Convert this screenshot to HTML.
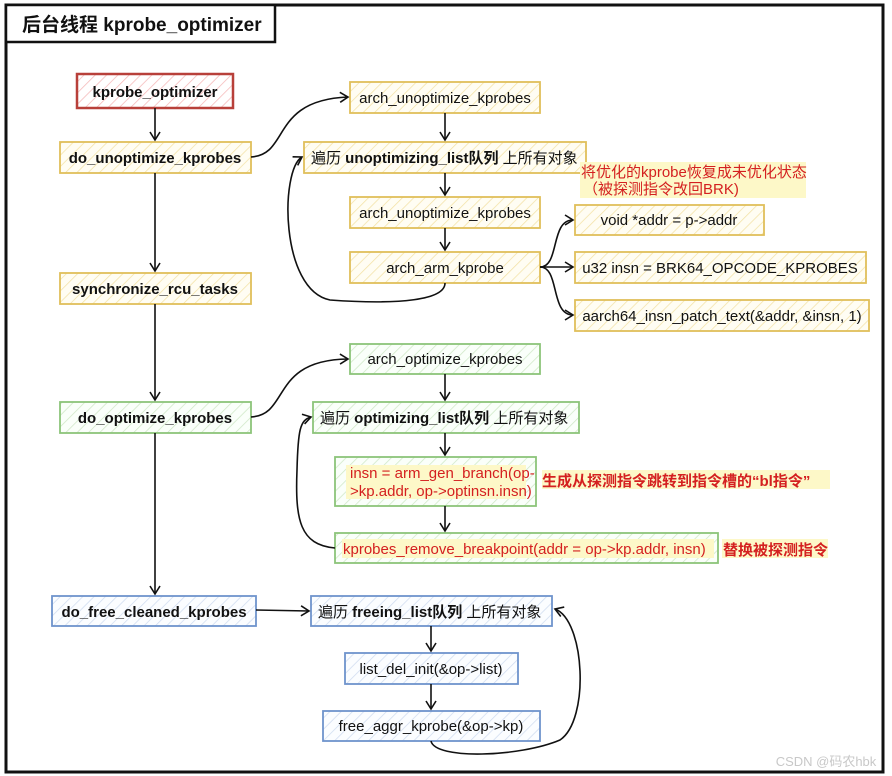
<!DOCTYPE html>
<html><head><meta charset="utf-8"><style>
html,body{margin:0;padding:0;background:#fff;}
svg{display:block;font-family:"Liberation Sans","Noto Sans CJK SC",sans-serif;}
</style></head><body>
<svg width="892" height="776" viewBox="0 0 892 776" xmlns="http://www.w3.org/2000/svg">
<defs>
<pattern id="hy" width="8" height="8" patternUnits="userSpaceOnUse" patternTransform="rotate(45)"><rect width="8" height="8" fill="#fffdf3"/><line x1="0" y1="0" x2="0" y2="8" stroke="#f3e2a6" stroke-width="1.5"/></pattern>
<pattern id="hr" width="8" height="8" patternUnits="userSpaceOnUse" patternTransform="rotate(45)"><rect width="8" height="8" fill="#fff"/><line x1="0" y1="0" x2="0" y2="8" stroke="#f5b8b8" stroke-width="1.5"/></pattern>
<pattern id="hg" width="8" height="8" patternUnits="userSpaceOnUse" patternTransform="rotate(45)"><rect width="8" height="8" fill="#fafffa"/><line x1="0" y1="0" x2="0" y2="8" stroke="#cfe8c6" stroke-width="1.5"/></pattern>
<pattern id="hb" width="8" height="8" patternUnits="userSpaceOnUse" patternTransform="rotate(45)"><rect width="8" height="8" fill="#fbfdff"/><line x1="0" y1="0" x2="0" y2="8" stroke="#cfdcf0" stroke-width="1.5"/></pattern>
<marker id="a" markerWidth="12" markerHeight="12" refX="10" refY="6" orient="auto" markerUnits="userSpaceOnUse"><path d="M2,1 L10,6 L2,11" fill="none" stroke="#111" stroke-width="1.6"/></marker>
</defs>
<rect x="0" y="0" width="892" height="776" fill="#fff"/>
<rect x="6" y="5" width="877" height="767" fill="none" stroke="#111" stroke-width="3"/>
<rect x="6" y="5" width="269" height="37" fill="#fff" stroke="#111" stroke-width="2.5"/>
<text x="22" y="31" font-size="19" font-weight="bold" fill="#111">后台线程 kprobe_optimizer</text>

<g font-size="15" fill="#111" text-anchor="middle">
<g stroke="#e0bf5a" stroke-width="1.8">
<rect x="60" y="142" width="191" height="31" fill="url(#hy)"/>
<rect x="60" y="273" width="191" height="31" fill="url(#hy)"/>
<rect x="350" y="82" width="190" height="31" fill="url(#hy)"/>
<rect x="304" y="142" width="282" height="31" fill="url(#hy)"/>
<rect x="350" y="197" width="190" height="31" fill="url(#hy)"/>
<rect x="350" y="252" width="190" height="31" fill="url(#hy)"/>
<rect x="575" y="205" width="189" height="30" fill="url(#hy)"/>
<rect x="575" y="252" width="291" height="31" fill="url(#hy)"/>
<rect x="575" y="300" width="294" height="31" fill="url(#hy)"/>
</g>
<rect x="77" y="74" width="156" height="34" fill="url(#hr)" stroke="#b8403a" stroke-width="2.5"/>
<g stroke="#8cc47a" stroke-width="1.8">
<rect x="60" y="402" width="191" height="31" fill="url(#hg)"/>
<rect x="350" y="344" width="190" height="30" fill="url(#hg)"/>
<rect x="313" y="402" width="266" height="31" fill="url(#hg)"/>
<rect x="335" y="457" width="201" height="49" fill="url(#hg)"/>
<rect x="335" y="533" width="383" height="30" fill="url(#hg)"/>
</g>
<g stroke="#6f93cc" stroke-width="1.8">
<rect x="52" y="596" width="204" height="30" fill="url(#hb)"/>
<rect x="311" y="596" width="241" height="30" fill="url(#hb)"/>
<rect x="345" y="653" width="173" height="31" fill="url(#hb)"/>
<rect x="323" y="711" width="217" height="30" fill="url(#hb)"/>
</g>
<rect x="580" y="162" width="226" height="36" fill="#fdf8c8"/>
<rect x="542" y="470" width="288" height="19" fill="#fdf8c8"/>
<rect x="722" y="539" width="106" height="19" fill="#fdf8c8"/>
<rect x="346" y="465" width="180" height="34" fill="#fdf8c8"/>
<rect x="342" y="539" width="372" height="19" fill="#fdf8c8"/>

<g font-weight="bold">
<text x="155" y="97">kprobe_optimizer</text>
<text x="155" y="163">do_unoptimize_kprobes</text>
<text x="155" y="294">synchronize_rcu_tasks</text>
<text x="155" y="423">do_optimize_kprobes</text>
<text x="154" y="617">do_free_cleaned_kprobes</text>
</g>
<text x="445" y="103">arch_unoptimize_kprobes</text>
<text x="445" y="218">arch_unoptimize_kprobes</text>
<text x="445" y="273">arch_arm_kprobe</text>
<text x="669" y="225">void *addr = p-&gt;addr</text>
<text x="720" y="273">u32 insn = BRK64_OPCODE_KPROBES</text>
<text x="722" y="321">aarch64_insn_patch_text(&amp;addr, &amp;insn, 1)</text>
<text x="445" y="364">arch_optimize_kprobes</text>
<text x="431" y="674">list_del_init(&amp;op-&gt;list)</text>
<text x="431" y="731">free_aggr_kprobe(&amp;op-&gt;kp)</text>
<g text-anchor="start">
<text x="311" y="163">遍历 <tspan font-weight="bold">unoptimizing_list队列</tspan> 上所有对象</text>
<text x="320" y="423">遍历 <tspan font-weight="bold">optimizing_list队列</tspan> 上所有对象</text>
<text x="318" y="617">遍历 <tspan font-weight="bold">freeing_list队列</tspan> 上所有对象</text>
<g fill="#d42020">
<text x="350" y="478">insn = arm_gen_branch(op-</text>
<text x="350" y="496">&gt;kp.addr, op-&gt;optinsn.insn)</text>
<text x="343" y="554">kprobes_remove_breakpoint(addr = op-&gt;kp.addr, insn)</text>
<text x="581" y="177">将优化的kprobe恢复成未优化状态</text>
<text x="583" y="194">（被探测指令改回BRK)</text>
<text x="542" y="486" font-weight="bold">生成从探测指令跳转到指令槽的“bl指令”</text>
<text x="723" y="555" font-weight="bold">替换被探测指令</text>
</g>
</g>
<text x="826" y="766" font-size="13" fill="#c8c8c8">CSDN @码农hbk</text>
</g>

<g fill="none" stroke="#111" stroke-width="1.6" marker-end="url(#a)">
<path d="M155,108 L155,140"/>
<path d="M155,173 L155,271"/>
<path d="M155,304 L155,400"/>
<path d="M155,433 L155,594"/>
<path d="M251,157 C290,155 270,100 348,97"/>
<path d="M445,113 L445,140"/>
<path d="M445,173 L445,195"/>
<path d="M445,228 L445,250"/>
<path d="M445,283 C445,300 400,305 330,300 C280,290 280,170 302,157"/>
<path d="M540,267 C560,267 550,220 573,220"/>
<path d="M540,267 L573,267"/>
<path d="M540,267 C560,267 550,315 573,315"/>
<path d="M251,417 C290,415 270,360 348,359"/>
<path d="M445,374 L445,400"/>
<path d="M445,433 L445,455"/>
<path d="M445,506 L445,531"/>
<path d="M335,548 C300,545 295,520 297,470 C298,430 300,420 311,417"/>
<path d="M256,610 L309,611"/>
<path d="M431,626 L431,651"/>
<path d="M431,684 L431,709"/>
<path d="M431,741 C435,760 520,757 560,740 C590,720 585,620 555,609"/>
</g>
</svg>
</body></html>
